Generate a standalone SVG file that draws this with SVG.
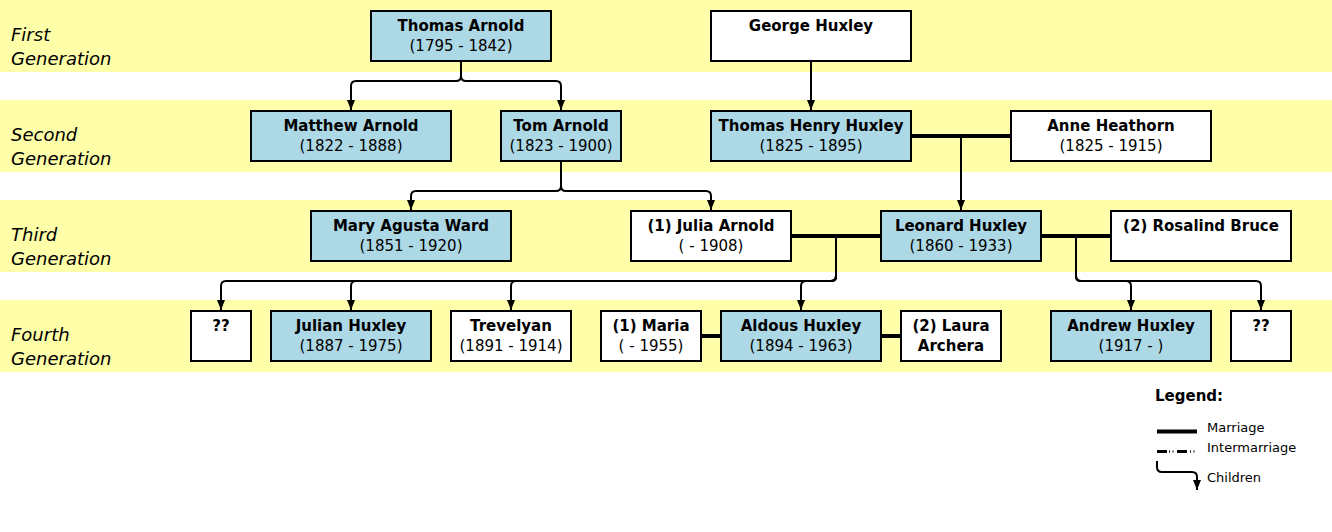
<svg xmlns="http://www.w3.org/2000/svg" width="1332" height="532" viewBox="0 0 1332 532">
<defs>
<style>
.band{fill:#ffffaa}
.gen{font-family:"DejaVu Sans",sans-serif;font-style:italic;font-size:18px;fill:#000}
.box{stroke:#000;stroke-width:2}
.blue{fill:#add8e6}
.white{fill:#fff}
.nm{font-family:"DejaVu Sans",sans-serif;font-weight:bold;font-size:15px;text-anchor:middle;fill:#000}
.yr{font-family:"DejaVu Sans",sans-serif;font-size:15px;text-anchor:middle;fill:#000}
.child{fill:none;stroke:#000;stroke-width:2;marker-end:url(#arr)}
.mar{fill:none;stroke:#000;stroke-width:4}
.lg{font-family:"DejaVu Sans",sans-serif;font-size:13px;fill:#000}
.lgt{font-family:"DejaVu Sans",sans-serif;font-weight:bold;font-size:15px;fill:#000}
</style>
<marker id="arr" markerUnits="userSpaceOnUse" viewBox="0 0 10 10" refX="10" refY="5" markerWidth="10" markerHeight="10" orient="auto">
<path d="M0,1 L10,5 L0,9 z" fill="#000"/>
</marker>
</defs>
<rect width="1332" height="532" fill="#fff"/>
<g id="bands">
<rect class="band" x="0" y="0" width="1332" height="72"/>
<rect class="band" x="0" y="100" width="1332" height="72"/>
<rect class="band" x="0" y="200" width="1332" height="72"/>
<rect class="band" x="0" y="300" width="1332" height="72"/>
<text class="gen" x="11" y="41">First</text>
<text class="gen" x="11" y="65">Generation</text>
<text class="gen" x="11" y="141">Second</text>
<text class="gen" x="11" y="165">Generation</text>
<text class="gen" x="11" y="241">Third</text>
<text class="gen" x="11" y="265">Generation</text>
<text class="gen" x="11" y="341">Fourth</text>
<text class="gen" x="11" y="365">Generation</text>
</g>
<g id="connectors">
<path class="child" d="M461,61 V76 Q461,81 456,81 H356 Q351,81 351,86 V110"/>
<path class="child" d="M461,61 V76 Q461,81 466,81 H556 Q561,81 561,86 V110"/>
<path class="child" d="M811,61 V110"/>
<path class="mar" d="M911,136 H1011"/>
<path class="child" d="M961,136 V210"/>
<path class="child" d="M561,161 V186 Q561,191 556,191 H416 Q411,191 411,196 V210"/>
<path class="child" d="M561,161 V186 Q561,191 566,191 H706 Q711,191 711,196 V210"/>
<path class="mar" d="M791,236 H881"/>
<path class="child" d="M836,236 V276 Q836,281 831,281 H226 Q221,281 221,286 V310"/>
<path class="child" d="M836,236 V276 Q836,281 831,281 H356 Q351,281 351,286 V310"/>
<path class="child" d="M836,236 V276 Q836,281 831,281 H516 Q511,281 511,286 V310"/>
<path class="child" d="M836,236 V276 Q836,281 831,281 H806 Q801,281 801,286 V310"/>
<path class="mar" d="M1041,236 H1111"/>
<path class="child" d="M1076,236 V276 Q1076,281 1081,281 H1126 Q1131,281 1131,286 V310"/>
<path class="child" d="M1076,236 V276 Q1076,281 1081,281 H1256 Q1261,281 1261,286 V310"/>
<path class="mar" d="M701,336 H721"/>
<path class="mar" d="M881,336 H901"/>
</g>
<g id="thomas-arnold"><rect class="box blue" x="371" y="11" width="180" height="50"/><text class="nm" x="461" y="31">Thomas Arnold</text><text class="yr" x="461" y="51">(1795 - 1842)</text></g>
<g id="george-huxley"><rect class="box white" x="711" y="11" width="200" height="50"/><text class="nm" x="811" y="31">George Huxley</text></g>
<g id="matthew-arnold"><rect class="box blue" x="251" y="111" width="200" height="50"/><text class="nm" x="351" y="131">Matthew Arnold</text><text class="yr" x="351" y="151">(1822 - 1888)</text></g>
<g id="tom-arnold"><rect class="box blue" x="501" y="111" width="120" height="50"/><text class="nm" x="561" y="131">Tom Arnold</text><text class="yr" x="561" y="151">(1823 - 1900)</text></g>
<g id="thomas-henry-huxley"><rect class="box blue" x="711" y="111" width="200" height="50"/><text class="nm" x="811" y="131">Thomas Henry Huxley</text><text class="yr" x="811" y="151">(1825 - 1895)</text></g>
<g id="anne-heathorn"><rect class="box white" x="1011" y="111" width="200" height="50"/><text class="nm" x="1111" y="131">Anne Heathorn</text><text class="yr" x="1111" y="151">(1825 - 1915)</text></g>
<g id="mary-agusta-ward"><rect class="box blue" x="311" y="211" width="200" height="50"/><text class="nm" x="411" y="231">Mary Agusta Ward</text><text class="yr" x="411" y="251">(1851 - 1920)</text></g>
<g id="julia-arnold"><rect class="box white" x="631" y="211" width="160" height="50"/><text class="nm" x="711" y="231">(1) Julia Arnold</text><text class="yr" x="711" y="251">( - 1908)</text></g>
<g id="leonard-huxley"><rect class="box blue" x="881" y="211" width="160" height="50"/><text class="nm" x="961" y="231">Leonard Huxley</text><text class="yr" x="961" y="251">(1860 - 1933)</text></g>
<g id="rosalind-bruce"><rect class="box white" x="1111" y="211" width="180" height="50"/><text class="nm" x="1201" y="231">(2) Rosalind Bruce</text></g>
<g id="unknown-1"><rect class="box white" x="191" y="311" width="60" height="50"/><text class="nm" x="221" y="331">??</text></g>
<g id="julian-huxley"><rect class="box blue" x="271" y="311" width="160" height="50"/><text class="nm" x="351" y="331">Julian Huxley</text><text class="yr" x="351" y="351">(1887 - 1975)</text></g>
<g id="trevelyan"><rect class="box white" x="451" y="311" width="120" height="50"/><text class="nm" x="511" y="331">Trevelyan</text><text class="yr" x="511" y="351">(1891 - 1914)</text></g>
<g id="maria"><rect class="box white" x="601" y="311" width="100" height="50"/><text class="nm" x="651" y="331">(1) Maria</text><text class="yr" x="651" y="351">( - 1955)</text></g>
<g id="aldous-huxley"><rect class="box blue" x="721" y="311" width="160" height="50"/><text class="nm" x="801" y="331">Aldous Huxley</text><text class="yr" x="801" y="351">(1894 - 1963)</text></g>
<g id="laura-archera"><rect class="box white" x="901" y="311" width="100" height="50"/><text class="nm" x="951" y="331">(2) Laura</text><text class="nm" x="951" y="351">Archera</text></g>
<g id="andrew-huxley"><rect class="box blue" x="1051" y="311" width="160" height="50"/><text class="nm" x="1131" y="331">Andrew Huxley</text><text class="yr" x="1131" y="351">(1917 - )</text></g>
<g id="unknown-2"><rect class="box white" x="1231" y="311" width="60" height="50"/><text class="nm" x="1261" y="331">??</text></g>
<g id="legend">
<text class="lgt" x="1155" y="401">Legend:</text>
<path d="M1157,431.5 H1197" stroke="#000" stroke-width="4"/>
<text class="lg" x="1207" y="432">Marriage</text>
<path d="M1157,451.5 H1197" stroke="#000" stroke-width="3" stroke-dasharray="10 10"/>
<path d="M1169,451.5 H1197" stroke="#000" stroke-width="2" stroke-dasharray="1 2.5 1 16.5"/>
<text class="lg" x="1207" y="452">Intermarriage</text>
<path class="child" d="M1157,461 V467 Q1157,472 1162,472 H1192 Q1197,472 1197,477 V490"/>
<text class="lg" x="1207" y="482">Children</text>
</g>
</svg>
